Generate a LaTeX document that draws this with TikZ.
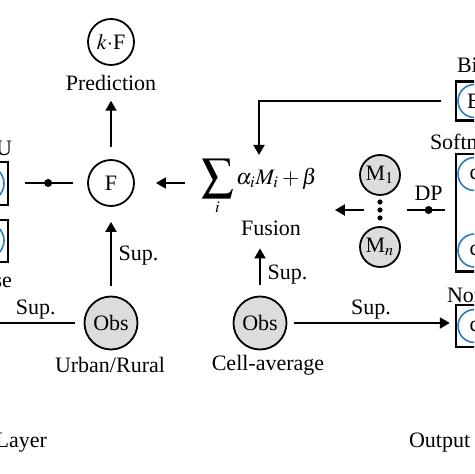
\documentclass[tikz,border=0pt]{standalone}
\usepackage{mathptmx}
\usepackage[no-math]{fontspec}
\setmainfont{Liberation Serif}
\usetikzlibrary{arrows.meta,positioning}
\definecolor{ringblue}{HTML}{2B7BBE}
\definecolor{obsgray}{HTML}{DCDCDC}
\newcommand{\bigsum}{\mathop{\vcenter{\hbox{\scalebox{1.45}{$\displaystyle\sum$}}}}\limits}
\tikzset{sc/.style={x=.5pt,y=-.5pt,line width=1pt,font=\fontsize{11}{13}\selectfont},
  nd/.style={circle,draw,line width=.9pt,inner sep=0pt,minimum size=23pt},
  obs/.style={nd,fill=obsgray,minimum size=26.5pt},
  mm/.style={nd,fill=obsgray,minimum size=20pt},
  ring/.style={circle,draw=ringblue,line width=.8pt,inner sep=0pt,minimum size=16.5pt},
  box/.style={draw,line width=1.2pt,minimum width=42pt},
  txt/.style={inner sep=0pt},
  lbl/.style={inner sep=1.5pt},
  dotmark/.style={circle,fill,inner sep=0pt,minimum size=4pt},
  arr/.style={-{Triangle[length=5pt,width=5.5pt]}}}

\begin{document}
\begin{tikzpicture}[sc]
  \useasboundingbox (0,0) rectangle (474,474);
  \clip (0,0) rectangle (474,474);
  \node[nd] (kF) at (111,42) {$k{\cdot}$F};
  \node[txt] (pred) at (111,83) {Prediction};
  \node[nd] (F) at (111,183) {F};
  \node[obs] (obsU) at (111,323) {Obs};
  \node[txt] (urb) at (110,365) {Urban/Rural};
  \node[obs] (obsC) at (260,323) {Obs};
  \node[txt] (cell) at (268,365) {Cell-average};
  \node[txt] (sum) at (259,187) {$\displaystyle\bigsum_i\alpha_iM_i+\beta$};
  \node[txt] (fus) at (271,228) {Fusion};
  \node[mm] (M1) at (380,175) {M$_1$};
  \node[mm] (Mn) at (380,247) {M$_n$};
  \coordinate (mdots) at (380,210);
  \foreach \y in {202,210,218}{\fill (380,\y) circle (1.3pt);}
  \node[box,minimum height=19.5pt] (bbox) at (498,101) {};
  \node[box,minimum height=58.7pt] (sbox) at (498,213) {};
  \node[box,minimum height=20.8pt] (nbox) at (498,326) {};
  \node[ring] (bring) at (474.5,101) {B};
  \foreach \n/\y in {s1/174,s2/250.5,n1/326}{\node[ring] (\n) at (474.5,\y) {c};}
  \node[txt,anchor=west] (blbl) at (456,68) {Binary};
  \node[txt,anchor=west] (slbl) at (429,142) {Softmax};
  \node[txt,anchor=west] (nlbl) at (446,295) {Normal};
  \node[box,minimum width=34pt,minimum height=21.5pt] (rbox) at (-26,183.5) {};
  \node[box,minimum width=34pt,minimum height=20.8pt] (dbox) at (-26,241) {};
  \node[ring,minimum size=17.5pt] (rring) at (-13.5,183.5) {};
  \node[ring,minimum size=17.5pt] (dring) at (-13.5,240.5) {};
  \node[txt,anchor=east] (rlbl) at (13,148) {ReLU};
  \node[txt,anchor=east] (dlbl) at (13,280) {Dense};
  \node[txt,anchor=east] (lay) at (48,443) {Layer};
  \node[txt,anchor=west] (out) at (408,443) {Output Layer};
  \coordinate (lin) at (-12,323);
  \draw[arr,shorten <=6pt,shorten >=4.5pt] (F) -- (pred);
  \draw[arr,shorten <=5pt,shorten >=7.5pt] (obsU) -- node[right,pos=.45] (sup2) {Sup.} (F);
  \draw[arr,shorten <=7.5pt,shorten >=10.5pt] (sum.west|-F) -- (F);
  \draw[shorten <=8pt,shorten >=7pt] (rbox.east|-F) -- node[dotmark] (rdot) {} (F);
  \draw[shorten >=4.5pt] (lin) -- node[above,lbl] (sup1) {Sup.} (obsU);
  \draw[arr,shorten <=6.9pt,shorten >=1.5pt] (bbox.west) -| (sum.north);
  \draw[arr,shorten <=8pt,shorten >=8.5pt] (mdots) -- (sum.east|-mdots);
  \draw[shorten <=5pt,shorten >=13.5pt] (sbox.west|-mdots) -- node[dotmark,pos=.35,label={[lbl]above:DP}] (dp) {} (mdots);
  \draw[arr,shorten <=5.5pt,shorten >=6pt] (obsC) -- node[right,pos=.35] (sup3) {Sup.} (obsC|-fus.south);
  \draw[arr,shorten <=3.2pt,shorten >=2.5pt] (obsC) -- node[above,lbl] (sup4) {Sup.} (nbox.west|-obsC);
\end{tikzpicture}
\end{document}
